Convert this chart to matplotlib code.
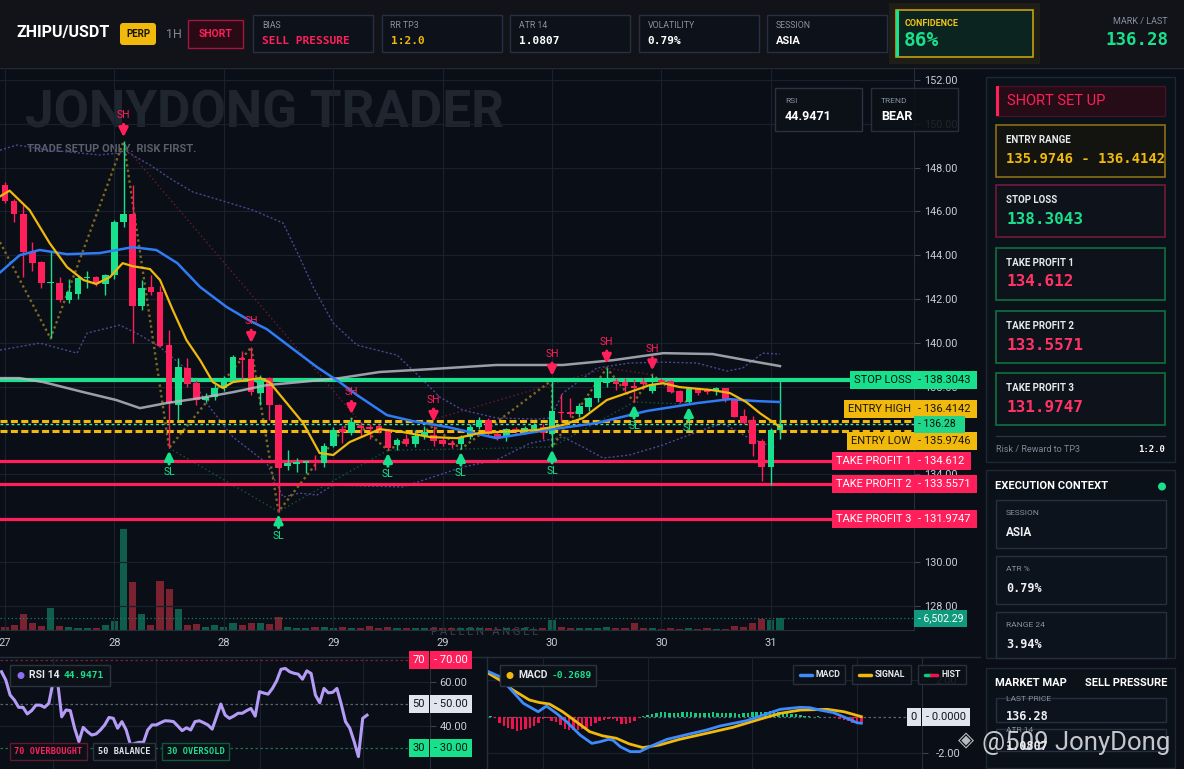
import numpy as np
import matplotlib.pyplot as plt
from matplotlib.patches import Rectangle, Circle, FancyBboxPatch
from matplotlib.ticker import FormatStrFormatter
import matplotlib.transforms as mtransforms

plt.rcParams['font.family'] = ['Roboto', 'DejaVu Sans']
MONO = ['DejaVu Sans Mono']

# colours
BG = '#0a0e16'
GRID = '#19212c'
EDGE = '#252f3c'
TXT = '#c9ced6'
DIM = '#8791a0'
GREEN = '#19e08c'
RED = '#ff1f5b'
PINK = '#ff3366'
YEL = '#f0b90b'
BLUE = '#2f7cf6'
GREY = '#b4b8c0'
PURPLE = '#b49cf6'

# ---------------- data ----------------
opens = [147.2, 146.5, 145.9, 144.15, 143.7, 142.75, 142.75, 141.95, 142.25, 142.95,
         143.0, 142.7, 143.1, 145.5, 145.9, 141.7, 142.55, 142.3, 139.9, 137.15,
         138.85, 138.15, 137.4, 137.55, 137.95, 138.4, 139.3, 139.25, 137.7, 138.4,
         137.15, 134.4, 134.45, 134.5, 134.6, 134.5, 135.3, 136.05, 135.9, 136.2,
         136.15, 136.2, 135.97, 135.35, 135.6, 135.4, 135.75, 135.8, 135.55, 135.45,
         135.4, 135.7, 136.15, 136.5, 135.85, 135.7, 136.05, 135.95, 136.05, 136.15,
         135.85, 136.85, 136.85, 136.75, 137.05, 137.5, 138.15, 138.25, 138.2, 138.05,
         138.2, 137.8, 138.3, 138.25, 137.8, 137.3, 137.9, 137.85, 137.8, 137.95,
         137.4, 136.65, 136.5, 135.5, 134.33, 136.0]
highs = [147.35, 146.55, 146.3, 144.6, 143.75, 144.15, 143.0, 142.9, 143.05, 143.3,
         143.05, 143.15, 145.6, 149.2, 147.2, 142.85, 143.1, 142.6, 140.6, 139.3,
         139.3, 138.3, 137.7, 138.1, 138.5, 139.45, 139.65, 139.8, 138.55, 138.45,
         137.2, 135.1, 134.75, 134.6, 134.9, 135.45, 136.15, 136.2, 136.55, 136.4,
         136.3, 136.3, 136.05, 135.65, 135.85, 136.0, 136.2, 136.2, 135.7, 135.55,
         135.8, 136.3, 136.6, 136.55, 135.95, 136.1, 136.15, 136.2, 136.35, 136.3,
         138.3, 137.65, 137.5, 137.25, 137.55, 138.3, 138.85, 138.4, 138.4, 138.35,
         138.4, 138.55, 138.4, 138.3, 137.85, 138.0, 137.95, 137.95, 138.0, 137.95,
         137.45, 137.0, 136.65, 135.6, 136.1, 138.3]
lows = [146.4, 145.5, 143.0, 143.3, 142.5, 140.2, 141.85, 141.8, 142.0, 142.5,
        142.6, 142.2, 142.9, 145.3, 140.0, 141.5, 142.2, 139.8, 135.2, 136.5,
        138.0, 137.15, 137.3, 137.4, 137.8, 138.3, 138.3, 137.6, 137.15, 136.5,
        132.3, 134.2, 134.1, 134.05, 134.2, 134.35, 135.25, 135.42, 135.8, 135.75,
        135.6, 135.9, 135.1, 135.1, 135.3, 135.25, 135.6, 135.3, 135.3, 135.2,
        135.15, 135.6, 136.05, 135.75, 135.55, 135.5, 135.85, 135.85, 135.95, 135.6,
        135.25, 136.43, 136.6, 136.6, 136.9, 137.3, 138.0, 137.85, 137.75, 137.3,
        137.9, 137.7, 138.1, 137.7, 137.25, 137.2, 137.6, 137.65, 137.6, 137.3,
        136.6, 136.3, 134.85, 133.7, 133.5, 135.6]
closes = [146.5, 145.9, 144.15, 143.65, 142.75, 142.8, 141.95, 142.3, 142.95, 143.0,
          142.7, 143.1, 145.5, 145.9, 141.7, 142.5, 142.3, 139.85, 137.25, 138.9,
          138.1, 137.4, 137.55, 137.95, 138.4, 139.35, 139.2, 137.75, 138.3, 137.15,
          134.3, 134.5, 134.55, 134.6, 134.5, 135.3, 136.0, 135.95, 136.4, 136.1,
          136.05, 135.97, 135.2, 135.55, 135.4, 135.75, 135.95, 135.5, 135.4, 135.35,
          135.7, 136.15, 136.5, 135.85, 135.7, 136.05, 135.95, 136.1, 136.25, 135.9,
          136.9, 136.8, 136.75, 137.1, 137.5, 138.3, 138.25, 138.1, 138.05, 137.95,
          138.1, 138.1, 138.2, 137.75, 137.3, 137.9, 137.7, 137.75, 137.95, 137.4,
          136.6, 136.35, 135.4, 134.35, 136.0, 136.28]
volumes = [1835, 2780, 8900, 3725, 2225, 12230, 2225, 1500, 1110, 1110,
           1280, 2780, 5005, 56155, 26690, 8900, 2780, 27245, 22795, 11675,
           2780, 3335, 1670, 2615, 1670, 3890, 2780, 3890, 3890, 3335,
           7230, 1670, 1390, 1110, 1670, 1945, 1390, 1670, 1110, 1390,
           2225, 1390, 1670, 1110, 1110, 1390, 1110, 835, 1110, 835,
           945, 835, 835, 835, 725, 835, 725, 835, 725, 835,
           5560, 1500, 1225, 835, 835, 1000, 1670, 1110, 1110, 3890,
           1110, 1110, 725, 1110, 725, 1110, 725, 1110, 725, 555,
           2225, 1670, 3890, 6115, 5560, 6502.29]

day_ticks = [0, 12, 24, 36, 48, 60, 72, 84]
day_labels = ['27', '28', '28', '29', '29', '30', '30', '31']

# moving averages / bands (candle index, price)
ema_fast_idx = [-0.5, 0.5, 2.7, 4.9, 6.8, 8.6, 10, 11.5, 12.9, 14, 15.9, 17, 18.4, 19.9, 21.4,
                22.8, 23.9, 25, 28, 29, 30.9, 32.7, 34.5, 36, 37.8, 41.1, 43.6, 46.6, 49.6,
                52, 55.7, 58.3, 61.2, 63.4, 66, 68.5, 70.7, 72.2, 74, 77.6, 79.5, 81.3, 82.8, 85]
ema_fast = [146.7, 146.95, 146.06, 144.55, 143.46, 142.87, 142.69, 143.0, 143.64, 143.5, 143.37,
            142.87, 141.5, 140.13, 139.21, 138.21, 137.94, 138.21, 138.39, 138.21, 137.25, 136.34,
            134.97, 134.88, 135.47, 136.06, 135.93, 135.7, 135.65, 135.88, 135.97, 136.02, 136.25,
            136.57, 137.39, 137.75, 138.07, 138.16, 137.98, 137.84, 137.71, 137.3, 136.79, 136.16]
ema_mid_idx = [-0.5, 1.6, 3.8, 6.8, 10.4, 14, 16.6, 18.9, 21.4, 24.3, 26.9, 28.7, 31.3, 34.2,
               36.7, 38.6, 41.9, 44.7, 48.5, 53.9, 59.4, 64.9, 70.4, 75.9, 79.5, 82.5, 85]
ema_mid = [143.23, 144.0, 144.24, 144.05, 144.1, 144.37, 144.24, 143.64, 142.55, 141.64, 141.0,
           140.63, 139.81, 138.9, 138.21, 137.62, 136.7, 136.43, 136.16, 135.65, 136.02, 136.34,
           136.89, 137.25, 137.43, 137.34, 137.3]
ema_slow_idx = [-0.5, 1.6, 4.2, 8.6, 12.2, 14.8, 17.7, 21.4, 25, 28.7, 32.3, 36.7, 41.1, 46.6,
                53.9, 61.2, 66.7, 72.2, 77.6, 81.3, 85]
ema_slow = [138.39, 138.39, 138.21, 137.75, 137.39, 137.02, 137.25, 137.48, 137.75, 138.07,
            138.21, 138.39, 138.67, 138.8, 138.99, 138.99, 139.21, 139.53, 139.49, 139.21, 138.94]
band_up_idx = [-0.55, 1.3, 4.9, 10.4, 13.4, 15.9, 18.4, 20.6, 24.3, 27.2, 30.5, 32.3, 33.8, 36,
               38.6, 43, 45.5, 47.7, 50.2, 53.9, 58.3, 59.8, 61.2, 64.9, 68.5, 72.1, 75.9, 79.2,
               80.9, 83.1, 85]
band_up = [148.8, 149.03, 148.8, 148.58, 148.71, 148.12, 147.43, 146.89, 146.43, 146.06, 145.47,
           143.92, 142.55, 140.9, 139.9, 139.44, 138.44, 137.52, 136.93, 136.57, 136.52, 136.57,
           137.71, 138.85, 139.08, 139.12, 139.08, 138.71, 138.85, 139.53, 139.49]
band_lo_idx = [-0.55, 3.8, 7.9, 9, 12.6, 14.8, 17, 20, 22.1, 25, 28.7, 30.5, 32.3, 34.2, 36,
               43.6, 46.6, 50.2, 53.9, 57.6, 61.2, 63.4, 65.6, 68.5, 72.1, 75.9, 78.7, 81.4,
               83.1, 84.6]
band_lo = [139.67, 139.99, 139.53, 140.45, 140.81, 140.36, 139.81, 138.76, 137.25, 135.7, 134.51,
           132.96, 133.14, 133.05, 133.51, 133.42, 133.83, 134.33, 134.65, 135.42, 135.7, 135.24,
           134.74, 134.88, 135.33, 135.93, 136.34, 135.7, 135.42, 135.2]

# swing structure
sh_idx = [13, 27, 38, 47, 60, 66, 71]
sl_idx = [18, 30, 42, 50, 60, 69, 75]
zz_idx = [-0.55, 5, 13, 18, 27, 30, 38, 42, 47, 50, 60, 60, 66, 69, 71, 75]
zz_vals = [144.6, 140.2, 149.2, 135.2, 139.8, 132.3, 136.55, 135.1, 136.2, 135.15, 138.3,
           135.25, 138.85, 137.3, 138.55, 137.2]
res_idx = [13.5, 38.5]
res_vals = [148.8, 136.6]
res2_idx = [47, 66, 71]
res2_vals = [136.5, 138.85, 138.55]
sup_idx = [18, 30, 42, 50, 60, 69, 75]
sup_vals = [135.2, 132.3, 135.1, 135.15, 135.25, 137.3, 137.2]

# trade levels
stop_loss = 138.3043
entry_high = 136.4142
entry_low = 135.9746
last_price = 136.28
tp1 = 134.612
tp2 = 133.5571
tp3 = 131.9747

# RSI (one value per candle)
rsi_vals = [64.7, 60.9, 54.1, 51.8, 48.5, 48.5, 45.5, 47.0, 49.5, 49.5,
            48.5, 50.3, 60.1, 60.9, 44.2, 47.3, 47.0, 39.0, 32.9, 39.4,
            37.4, 35.9, 36.4, 38.2, 40.5, 43.9, 43.5, 39.0, 42.0, 38.2,
            31.4, 32.1, 32.6, 32.5, 38.2, 40.5, 40.5, 41.5, 42.4, 42.3,
            42.0, 40.0, 37.9, 39.2, 38.2, 42.0, 42.4, 41.5, 40.5, 38.6,
            44.2, 50.0, 45.0, 43.5, 44.5, 45.8, 45.8, 47.0, 48.0, 44.5,
            55.6, 55.0, 54.5, 57.1, 60.6, 65.8, 66.2, 64.7, 64.0, 63.6,
            61.3, 65.1, 63.9, 54.1, 50.6, 57.1, 55.1, 55.3, 57.1, 50.0,
            42.0, 39.0, 33.0, 26.1, 43.5, 44.9471]

# MACD
macd_idx = [-0.5, 2.1, 4.4, 7.5, 10.9, 12.8, 15.1, 17.4, 20.5, 23.2, 25.1, 27, 28.1, 29.7, 32,
            34.2, 36.5, 40.4, 45, 49.5, 52.6, 58.7, 63.3, 66.4, 70.9, 73.2, 75.5, 78.6, 81.7, 84, 85]
macd_vals = [2.46, 2.19, 1.55, 0.73, 0.27, 0.58, 0.18, -0.27, -1.0, -1.46, -1.37, -1.24, -1.29,
             -1.64, -1.91, -1.91, -1.64, -1.24, -0.98, -0.73, -0.51, -0.22, 0.15, 0.4, 0.51, 0.49,
             0.36, 0.22, -0.09, -0.33, -0.36]
sig_idx = [-0.5, 2.1, 5.1, 8.9, 11.2, 13.5, 16.5, 19.6, 22.7, 25.7, 28.8, 31.8, 34.9, 38.7,
           43.3, 49.5, 55.6, 61.7, 66.4, 71, 77.2, 81, 85]
sig_vals = [2.37, 2.0, 1.46, 0.91, 0.77, 0.69, 0.27, -0.27, -0.82, -1.05, -1.18, -1.49, -1.69,
            -1.55, -1.24, -0.91, -0.58, -0.14, 0.18, 0.36, 0.4, 0.27, 0.0]
hist_vals = [0.05, -0.1, -0.35, -0.5, -0.6, -0.7, -0.8, -0.75, -0.7, -0.6,
             -0.5, -0.35, -0.15, -0.05, -0.25, -0.3, -0.45, -0.7, -0.75, -0.75,
             -0.72, -0.68, -0.6, -0.5, -0.35, -0.25, -0.18, -0.12, -0.15, -0.25,
             -0.38, -0.4, -0.35, -0.22, -0.08, 0.02, 0.08, 0.15, 0.22, 0.25,
             0.25, 0.22, 0.2, 0.22, 0.24, 0.25, 0.23, 0.22, 0.22, 0.2,
             0.22, 0.24, 0.22, 0.2, 0.19, 0.2, 0.18, 0.17, 0.18, 0.2,
             0.25, 0.27, 0.26, 0.28, 0.3, 0.3, 0.28, 0.25, 0.2, 0.15,
             0.12, 0.1, 0.06, 0.03, 0.0, 0.02, -0.02, -0.03, -0.02, -0.08,
             -0.12, -0.18, -0.25, -0.32, -0.28, -0.27]
macd_last = -0.2689

# header stats
header_stats = [('BIAS', 'SELL PRESSURE', RED), ('RR TP3', '1:2.0', YEL), ('ATR 14', '1.0807', 'white'),
                ('VOLATILITY', '0.79%', 'white'), ('SESSION', 'ASIA', 'white')]
confidence = '86%'

# ---------------- figure ----------------
W, H = 1184, 769
fig = plt.figure(figsize=(W / 100, H / 100), dpi=100, facecolor=BG)


def rect(x, y, w, h):
    return [x / W, 1 - (y + h) / H, w / W, h / H]


def pix_axes(z):
    a = fig.add_axes([0, 0, 1, 1], zorder=z)
    a.set_xlim(0, W)
    a.set_ylim(H, 0)
    a.axis('off')
    return a


bg = pix_axes(0)
top = pix_axes(20)


def box(a, x, y, w, h, fc='#0d121a', ec=EDGE, lw=1, z=1, alpha=1):
    a.add_patch(Rectangle((x, y), w, h, fc=fc, ec=ec, lw=lw, zorder=z, alpha=alpha))


def txt(a, x, y, s, size=7, color='white', mono=False, bold=False, ha='left', z=3, **kw):
    a.text(x, y, s, fontsize=size, color=color, family=MONO if mono else None,
           weight='bold' if bold else 'normal', ha=ha, va='center', zorder=z, **kw)


# top bar
box(bg, 0, 0, W, 67, fc='#111318', ec='none', z=0)
bg.plot([0, W], [67.5, 67.5], color='#222a35', lw=1)
txt(bg, 16, 33, 'ZHIPU/USDT', size=11.5, bold=True)
bg.add_patch(FancyBboxPatch((120, 23), 36, 22, boxstyle='round,pad=0,rounding_size=3', fc=YEL, ec='none'))
txt(bg, 138, 34, 'PERP', size=7, bold=True, color='#1a1405', ha='center')
txt(bg, 166, 34, '1H', size=9, color='#7d8896')
box(bg, 188, 20, 55, 28, fc='#2a0a14', ec='#a3163f')
txt(bg, 215.5, 34, 'SHORT', size=7.5, bold=True, color=RED, ha='center')
for i, (lab, val, col) in enumerate(header_stats):
    x = 253 + i * 128.5
    box(bg, x, 15, 120, 37, fc='#0d121a', ec='#263040')
    txt(bg, x + 9, 26, lab, size=6.3, color=DIM)
    txt(bg, x + 9, 40.5, val, size=8, color=col, bold=True, mono=(val != 'ASIA'))
for g in range(3):
    box(bg, 896 - 2 * (g + 1), 10 - 2 * (g + 1), 137 + 4 * (g + 1), 47 + 4 * (g + 1),
        fc='none', ec='#c9a00e', lw=1.5, alpha=0.08)
box(bg, 896, 10, 137, 47, fc='#0c241f', ec='#c9a00e', lw=1.2)
box(bg, 896, 10, 3, 47, fc=GREEN, ec='none', z=2)
txt(bg, 905, 23, 'CONFIDENCE', size=6.5, bold=True, color='#f0c419')
txt(bg, 904, 40, confidence, size=14, bold=True, mono=True, color=GREEN)
txt(bg, 1168, 22, 'MARK / LAST', size=6.5, color=DIM, ha='right')
txt(bg, 1168, 40, f'{last_price}', size=12.5, bold=True, mono=True, color=GREEN, ha='right')

# watermark behind chart
txt(bg, 25, 113, 'JONYDONG TRADER', size=37, bold=True, color='#20262f')
txt(bg, 27, 149, 'TRADE SETUP ONLY. RISK FIRST.', size=8, bold=True, color='#59606b')
txt(bg, 485, 632, 'F A L L E N   A N G E L', size=8, color='#3b424d', ha='center')

# panel separators
bg.plot([0, 980], [657, 657], color=EDGE, lw=1)
bg.plot([487, 487], [657, H], color=EDGE, lw=1)

# ---------------- main price chart ----------------
ax = fig.add_axes(rect(0, 68, 914, 562), zorder=5)
ax.patch.set_alpha(0)
vax = fig.add_axes(rect(0, 68, 914, 562), zorder=4, sharex=ax)
vax.axis('off')
ax.set_xlim(-0.55, 99.7)
ax.set_ylim(126.89, 152.55)
vax.set_ylim(0, 312500)

idx = np.arange(len(opens))
o, h, l, c = map(np.array, (opens, highs, lows, closes))
up = c >= o
col = np.where(up, GREEN, RED)
vcol = np.where(up, '#0f5d4d', '#7a2230')

vax.bar(idx, volumes, width=0.78, color=vcol)
vax.axhline(volumes[-1], color='#13806b', lw=0.9, ls=(0, (1, 2)))

ax.set_axisbelow(True)
ax.grid(True, color=GRID, lw=0.9)
ax.set_yticks(np.arange(128, 153, 2))
ax.yaxis.set_major_formatter(FormatStrFormatter('%.2f'))
ax.yaxis.tick_right()
ax.tick_params(axis='y', labelcolor=TXT, color='#3a4452', labelsize=7.8, length=4, pad=3)
ax.set_xticks(day_ticks)
ax.set_xticklabels(day_labels)
ax.tick_params(axis='x', length=0, labelcolor=TXT, labelsize=8, pad=6)
for s in ('top', 'left'):
    ax.spines[s].set_visible(False)
for s in ('right', 'bottom'):
    ax.spines[s].set_color(EDGE)

# bands and structure lines
ax.plot(band_up_idx, band_up, color='#4d4592', lw=1, ls=(0, (1.5, 1.5)), zorder=2)
ax.plot(band_lo_idx, band_lo, color='#4d4592', lw=1, ls=(0, (1.5, 1.5)), zorder=2)
ax.plot(zz_idx, zz_vals, color='#7d6822', lw=1.7, ls=(0, (1, 1.3)), zorder=2)
ax.plot(res_idx, res_vals, color='#6e1a33', lw=1, ls=(0, (1, 2)), zorder=2)
ax.plot(res2_idx, res2_vals, color='#6e1a33', lw=1, ls=(0, (1, 2)), zorder=2)
ax.plot(sup_idx, sup_vals, color='#17553f', lw=1, ls=(0, (1, 2)), zorder=2)

# trade levels
ax.axhline(stop_loss, color=GREEN, lw=3, zorder=3)
ax.axhline(entry_high, color=YEL, lw=2.2, ls=(0, (2.3, 1.1)), zorder=3)
ax.axhline(entry_low, color=YEL, lw=2.2, ls=(0, (2.3, 1.1)), zorder=3)
ax.axhline(last_price, color='#3ee6b0', lw=1, ls=(0, (2, 2)), zorder=3)
for tp in (tp1, tp2, tp3):
    ax.axhline(tp, color=RED, lw=2.3, zorder=3)

# candles
ax.vlines(idx, l, h, colors=col, lw=1, zorder=4)
ax.bar(idx, np.maximum(np.abs(c - o), 0.045), bottom=np.minimum(o, c), width=0.72, color=col, zorder=5)

# moving averages
ax.plot(ema_slow_idx, ema_slow, color=GREY, lw=1.8, alpha=0.85, zorder=6)
ax.plot(ema_mid_idx, ema_mid, color=BLUE, lw=1.8, zorder=6)
ax.plot(ema_fast_idx, ema_fast, color=YEL, lw=1.6, zorder=6)

# swing markers
for k in sh_idx:
    ax.annotate('', xy=(k, highs[k]), xytext=(0, 17), textcoords='offset pixels',
                arrowprops=dict(arrowstyle='-|>', color=RED, lw=2.2, shrinkA=0, shrinkB=3,
                                mutation_scale=13), zorder=7)
    ax.annotate('SH', xy=(k, highs[k]), xytext=(0, 26), textcoords='offset pixels',
                ha='center', va='center', color=RED, fontsize=7.5, zorder=7)
for k in sl_idx:
    ax.annotate('', xy=(k, lows[k]), xytext=(0, -16), textcoords='offset pixels',
                arrowprops=dict(arrowstyle='-|>', color=GREEN, lw=2.2, shrinkA=0, shrinkB=2,
                                mutation_scale=13), zorder=7)
    ax.annotate('SL', xy=(k, lows[k]), xytext=(0, -24), textcoords='offset pixels',
                ha='center', va='center', color=GREEN, fontsize=7.5, zorder=7)

# price tags on the axis
ytr = ax.get_yaxis_transform()


def tag(a, tr, y, s, fc, tc, dx, ha, size=8, dy=0):
    a.annotate(s, xy=(1, y), xycoords=tr, xytext=(dx, dy), textcoords='offset pixels',
               ha=ha, va='center', color=tc, fontsize=size, annotation_clip=False, zorder=9,
               bbox=dict(boxstyle='square,pad=0.36', fc=fc, ec='none'))


levels = [(stop_loss, 'STOP LOSS', GREEN, '#06140d', 0), (entry_high, 'ENTRY HIGH', YEL, '#1a1405', 12),
          (entry_low, 'ENTRY LOW', YEL, '#1a1405', -10), (tp1, 'TAKE PROFIT 1', RED, 'white', 0),
          (tp2, 'TAKE PROFIT 2', RED, 'white', 0), (tp3, 'TAKE PROFIT 3', RED, 'white', 0)]
for y, name, fc, tc, dy in levels:
    tag(ax, ytr, y, name + ' ', fc, tc, 0, 'right', dy=dy)
    tag(ax, ytr, y, f'- {y} ', fc, tc, 4, 'left', dy=dy)
tag(ax, ytr, last_price, f'- {last_price}  ', '#1fd68a', '#06140d', 4, 'left', size=7.6)
vtr = mtransforms.blended_transform_factory(ax.transAxes, vax.transData)
tag(ax, vtr, volumes[-1], f'- {volumes[-1]:,.2f}', '#0f9a7e', 'white', 4, 'left', size=7.6)

# RSI / TREND boxes
box(top, 775, 88, 87, 43, fc='#0c1118', ec='#2a3340')
txt(top, 785, 101, 'RSI', size=6, color=DIM)
txt(top, 785, 116, f'{rsi_vals[-1]}', size=9, bold=True)
box(top, 871, 88, 87, 43, fc='#0c1118', ec='#2a3340', alpha=0.9)
txt(top, 881, 101, 'TREND', size=6, color=DIM)
txt(top, 881, 116, 'BEAR', size=9, bold=True)

# ---------------- RSI panel ----------------
rax = fig.add_axes(rect(0, 657, 430, 112), zorder=5)
rax.patch.set_alpha(0)
rax.set_xlim(-0.35, 99.65)
rax.set_ylim(20.45, 71.4)
rax.set_axisbelow(True)
rax.grid(True, color=GRID, lw=0.9)
rax.set_xticks(day_ticks[1::2])
rax.set_xticklabels([])
rax.tick_params(axis='x', length=0)
rax.set_yticks([40, 60])
rax.yaxis.set_major_formatter(FormatStrFormatter('%.2f'))
rax.yaxis.tick_right()
rax.tick_params(axis='y', labelcolor=TXT, color='#3a4452', labelsize=8, length=4, pad=3)
for s in ('top', 'left', 'bottom'):
    rax.spines[s].set_visible(False)
rax.spines['right'].set_color(EDGE)
rax.axhline(70, color='#7a1f38', lw=0.9, ls=(0, (2, 2)))
rax.axhline(50, color='#5d646e', lw=0.9, ls=(0, (2, 2)))
rax.axhline(30, color='#1b6e4f', lw=0.9, ls=(0, (2, 2)))
rax.plot(idx, rsi_vals, color=PURPLE, lw=2.2, solid_joinstyle='round', zorder=4)
rtr = rax.get_yaxis_transform()
for lvl, fc, tc in [(70, RED, 'white'), (50, '#dfe6f0', '#111418'), (30, GREEN, '#06140d')]:
    tag(rax, rtr, lvl, f'{lvl}', fc, tc, -5, 'right', size=8)
    tag(rax, rtr, lvl, f'- {lvl:.2f}', fc, tc, 4, 'left', size=8)

box(top, 10, 665, 100, 21, fc='#0c1118', ec='#2a3340')
top.add_patch(Circle((21, 675.5), 3.5, fc='#8c6ff0', ec='none', zorder=3))
txt(top, 29, 675.5, 'RSI 14', size=7.5, bold=True, color='#e4e7ec')
txt(top, 64, 675.5, f'{rsi_vals[-1]}', size=6.8, bold=True, mono=True, color=GREEN)
for x, w, s, ec, tc in [(10, 77, '70 OVERBOUGHT', '#5e1a2e', RED), (93, 62, '50 BALANCE', '#2a3340', '#e0e4ea'),
                        (162, 67, '30 OVERSOLD', '#11573c', GREEN)]:
    box(top, x, 743, w, 17, fc='#0b0f17', ec=ec)
    txt(top, x + w / 2, 751.5, s, size=6.2, bold=True, mono=True, color=tc, ha='center')

# ---------------- MACD panel ----------------
max_ = fig.add_axes(rect(488, 657, 434, 112), zorder=5)
max_.patch.set_alpha(0)
max_.set_xlim(-0.6, 98.9)
max_.set_ylim(-2.86, 3.26)
max_.set_axisbelow(True)
max_.grid(True, color=GRID, lw=0.9)
max_.set_xticks(day_ticks[1::2])
max_.set_xticklabels([])
max_.tick_params(axis='x', length=0)
max_.set_yticks([-2, 2])
max_.yaxis.set_major_formatter(FormatStrFormatter('%.2f'))
max_.yaxis.tick_right()
max_.tick_params(axis='y', labelcolor=TXT, color='#3a4452', labelsize=8, length=4, pad=6)
for s in ('top', 'left', 'bottom'):
    max_.spines[s].set_visible(False)
max_.spines['right'].set_color(EDGE)
max_.axhline(0, color='#5d646e', lw=0.9, ls=(0, (2, 2)))
hcol = ['#0ecb81' if v >= 0 else '#f0124e' for v in hist_vals]
max_.bar(idx, hist_vals, width=0.55, color=hcol, zorder=3)
max_.plot(sig_idx, sig_vals, color=YEL, lw=2, zorder=4)
max_.plot(macd_idx, macd_vals, color='#3d8bfd', lw=2, zorder=4)
mtr = max_.get_yaxis_transform()
tag(max_, mtr, 0, '0', '#dfe6f0', '#111418', -5, 'right', size=8)
tag(max_, mtr, 0, '- 0.0000', '#dfe6f0', '#111418', 4, 'left', size=8)

box(top, 500, 665, 96, 21, fc='#0c1118', ec='#2a3340')
top.add_patch(Circle((510, 675.5), 3.5, fc=YEL, ec='none', zorder=3))
txt(top, 518, 675.5, 'MACD', size=7.5, bold=True, color='#e4e7ec')
txt(top, 552, 675.5, f'{macd_last}', size=6.8, bold=True, mono=True, color=GREEN)
for x, w, s, lc in [(793, 52, 'MACD', ['#3d8bfd']), (852, 59, 'SIGNAL', [YEL]), (918, 48, 'HIST', ['#0ecb81', '#f0124e'])]:
    box(top, x, 665, w, 19, fc='#0c1118', ec='#2a3340', alpha=0.9)
    seg = 12 / len(lc)
    for j, cc in enumerate(lc):
        top.plot([x + 7 + j * seg, x + 7 + (j + 1) * seg], [674.5, 674.5], color=cc, lw=2.5,
                 solid_capstyle='round', zorder=3)
    txt(top, x + 23, 674.5, s, size=6.3, bold=True, color='#e4e7ec')

# ---------------- right panel ----------------
box(bg, 986, 77, 189, 385, fc='#0b1119', ec='#1e2834')
box(bg, 996, 86, 169, 30, fc='#260c17', ec='#44132a')
box(bg, 996, 86, 3, 30, fc=RED, ec='none', z=2)
txt(bg, 1007, 101, 'SHORT SET UP', size=10.5, color=RED)
cards = [('ENTRY RANGE', f'{entry_low} - {entry_high}', YEL, '#8a6f14', '#13140f', 10),
         ('STOP LOSS', f'{stop_loss}', GREEN, '#74193a', '#0e121b', 11.5),
         ('TAKE PROFIT 1', f'{tp1}', PINK, '#0f7040', '#0e131b', 11.5),
         ('TAKE PROFIT 2', f'{tp2}', PINK, '#0f7040', '#0e131b', 11.5),
         ('TAKE PROFIT 3', f'{tp3}', PINK, '#0f7040', '#0e131b', 11.5)]
for y, (lab, val, vc, ec, fc, sz) in zip([125, 185, 248, 311, 373], cards):
    box(bg, 996, y, 169, 52, fc=fc, ec=ec, lw=1.2)
    txt(bg, 1006, y + 15, lab, size=7, bold=True, color='#e6e9ee')
    txt(bg, 1006, y + 34, val, size=sz, bold=True, mono=True, color=vc)
bg.plot([996, 1165], [436, 436], color='#2a3442', lw=1)
txt(bg, 996, 450, 'Risk / Reward to TP3', size=6.5, color='#7d8896')
txt(bg, 1165, 450, '1:2.0', size=6.5, bold=True, mono=True, ha='right')

box(bg, 986, 470, 189, 188, fc='#0b1119', ec='#1e2834')
txt(bg, 995, 486, 'EXECUTION CONTEXT', size=8, bold=True)
bg.add_patch(Circle((1162, 486.5), 4, fc=GREEN, ec='none', zorder=3))
for y, hh, lab, val in [(500, 48, 'SESSION', 'ASIA'), (556, 48, 'ATR %', '0.79%'), (612, 46, 'RANGE 24', '3.94%')]:
    box(bg, 996, y, 170, hh, fc='#0d131c', ec='#253040')
    txt(bg, 1006, y + 13, lab, size=6, color=DIM)
    txt(bg, 1006, y + 32, val, size=8.5, bold=True, mono=(val != 'ASIA'), color='#eef0f3')

box(bg, 986, 668, 189, 100, fc='#0b1119', ec='#1e2834')
txt(bg, 995, 683, 'MARKET MAP', size=8, bold=True)
txt(bg, 1167, 683, 'SELL PRESSURE', size=8, bold=True, ha='right')
for y, hh, lab, val in [(698, 24, 'LAST PRICE', f'{last_price}'), (729, 22, 'ATR 14', '1.0807')]:
    box(bg, 996, y, 170, hh, fc='#0d131c', ec='#253040')
    txt(bg, 1006, y + 1, lab, size=6, color=DIM)
    txt(bg, 1006, y + 18, val, size=8.5, bold=True, mono=True, color='#eef0f3')

# watermark
txt(top, 966, 741, '\u25c8', size=15, color='#d8dbe0', ha='center', alpha=0.85)
txt(top, 982, 743, '@509 JonyDong', size=18.5, color='#e6e8ec', alpha=0.85)

fig.savefig('out.png', dpi=100, facecolor=BG)
